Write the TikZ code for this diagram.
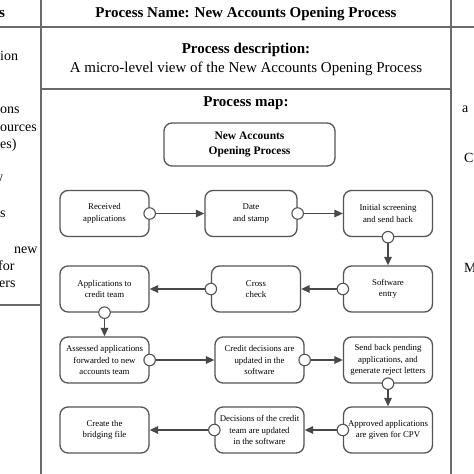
\documentclass[tikz,border=0pt]{standalone}
\usepackage{fontspec}
\setmainfont{Liberation Serif}
\usetikzlibrary{arrows.meta}
\definecolor{tbl}{HTML}{6A6A6A}
\definecolor{bx}{HTML}{555555}
\definecolor{cn}{HTML}{484848}
\begin{document}
\begin{tikzpicture}[x=1pt,y=-1pt,
  stepbox/.style={draw=bx, line width=1.3pt, rounded corners=8pt, fill=white,
    minimum width=89pt, minimum height=46pt, inner sep=0pt, align=center,
    font=\fontsize{8.8}{11.3}\selectfont, text=black},
  port/.style={circle, draw=bx, line width=1.1pt, fill=white, minimum size=11.5pt, inner sep=0pt},
  conn/.style={draw=cn, line width=1.3pt, -{Triangle[length=8.5pt,width=7.5pt]}},
  tline/.style={draw=tbl, line width=1.4pt},
  hdr/.style={font=\bfseries\fontsize{15}{18}\selectfont, anchor=base, inner sep=0pt},
  txt/.style={font=\fontsize{15}{18}\selectfont, anchor=base, inner sep=0pt},
  side/.style={font=\fontsize{14}{17}\selectfont, anchor=base west, inner sep=0pt},
]
\useasboundingbox (0,0) rectangle (474,474);
\clip (0,0) rectangle (474,474);
\fill[white] (0,0) rectangle (474,474);

% table lines
\draw[tline] (0,27) -- (474,27);
\draw[tline] (41,0) -- (41,474);
\draw[tline] (451,0) -- (451,474);
\draw[tline] (41,89) -- (451,89);
\draw[tline] (0,305) -- (41,305);

% headers
\node[hdr] (title) at (246,17) {Process Name: New Accounts Opening Process};
\node[hdr] (lefthdr) at (2,17) {s};
\node[hdr] (deschdr) at (246,53) {Process description:};
\node[txt] (desc) at (246,72) {A micro-level view of the New Accounts Opening Process};
\node[hdr] (maphdr) at (246,106) {Process map:};

% left column fragments
\node[side] (l1) at (0,60) {ion};
\node[side] (l2) at (0,113) {ons};
\node[side] (l3) at (0,131) {ources};
\node[side] (l4) at (0,148) {es)};
\node[side] (l5) at (-7,181) {w};
\node[side] (l6) at (0,217) {s};
\node[side] (l7) at (14,253) {new};
\node[side] (l8) at (-2,270) {for};
\node[side] (l9) at (-1,287) {ers};

% right column fragments
\node[side] (r1) at (462,112) {a};
\node[side] (r2) at (464,162) {C};
\node[side] (r3) at (464,272) {M};

% top box
\node[stepbox, minimum width=171pt, minimum height=43pt,
  font=\bfseries\fontsize{11.5}{14.5}\selectfont] (top) at (249.5,144.5)
  {New Accounts\\Opening Process};

% row 1
\node[stepbox] (recv) at (104.5,213.5) {Received\\applications};
\node[stepbox, minimum width=92pt] (date) at (251,213.5) {Date\\and stamp};
\node[stepbox] (init) at (388,213.5) {Initial screening\\and send back};
% row 2
\node[stepbox] (soft) at (388,289) {Software\\entry};
\node[stepbox] (cross) at (256,289) {Cross\\check};
\node[stepbox] (apps) at (104.5,289) {Applications to\\credit team};
% row 3
\node[stepbox] (assd) at (104.5,360) {Assessed applications\\forwarded to new\\accounts team};
\node[stepbox] (cred) at (259.5,360) {Credit decisions are\\updated in the\\software};
\node[stepbox] (send) at (388,360) {Send back pending\\applications, and\\generate reject letters};
% row 4
\node[stepbox] (appr) at (388,430) {Approved applications\\are given for CPV};
\node[stepbox] (deci) at (259.5,430) {Decisions of the credit\\team are updated\\in the software};
\node[stepbox] (brid) at (104.5,430) {Create the\\bridging file};

% ports
\node[port] (p1) at (recv.east) {};
\node[port] (p2) at (date.east) {};
\node[port] (p3) at (init.south) {};
\node[port] (p4) at (soft.west) {};
\node[port] (p5) at (cross.west) {};
\node[port] (p6) at (apps.south) {};
\node[port] (p7) at (assd.east) {};
\node[port] (p8) at (cred.east) {};
\node[port] (p9) at (send.south) {};
\node[port] (p10) at (appr.west) {};
\node[port] (p11) at (deci.west) {};

% connectors
\draw[conn] (p1) -- (date.west);
\draw[conn] (p2) -- (init.west);
\draw[conn] (p3) -- (soft.north);
\draw[conn] (p4) -- (cross.east);
\draw[conn] (p5) -- (apps.east);
\draw[conn] (p6) -- (assd.north);
\draw[conn] (p7) -- (cred.west);
\draw[conn] (p8) -- (send.west);
\draw[conn] (p9) -- (appr.north);
\draw[conn] (p10) -- (deci.east);
\draw[conn] (p11) -- (brid.east);
\end{tikzpicture}
\end{document}
